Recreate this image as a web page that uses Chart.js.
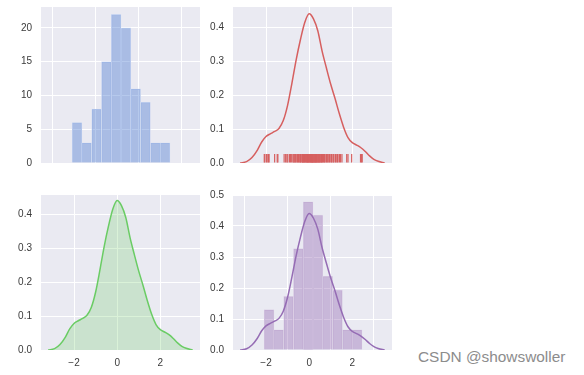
<!DOCTYPE html>
<html>
<head>
<meta charset="utf-8">
<script src="https://cdn.jsdelivr.net/npm/chart.js@4.4.0/dist/chart.umd.min.js"></script>
<style>
    body { margin: 0; background: #fff; width: 584px; height: 375px; position: relative; overflow: hidden; }
    canvas { position: absolute; }
    #mark { position: absolute; left: 418px; top: 349px; font: 15.4px "Liberation Sans", Arial, sans-serif; color: #8c8c8c; line-height: 1; }
</style>
</head>
<body>
<canvas id="tl" width="210" height="170" style="left:0;top:0"></canvas>
<canvas id="tr" width="210" height="170" style="left:192px;top:0"></canvas>
<canvas id="bl" width="210" height="187" style="left:0;top:188px"></canvas>
<canvas id="br" width="210" height="187" style="left:192px;top:188px"></canvas>
<div id="mark">CSDN @showswoller</div>
<script>
// histogram bins (centres) and heights
const binCenters = [-1.86, -1.41, -0.955, -0.50, -0.047, 0.407, 0.861, 1.315, 1.77, 2.223];
const binCounts = [6, 3, 8, 15, 22, 20, 11, 9, 3, 3];
const binDensity = [0.13, 0.065, 0.173, 0.327, 0.478, 0.435, 0.238, 0.193, 0.065, 0.065];

// kde curve
const kdeX = [-3.2, -2.9, -2.65, -2.4, -2.2, -2.0, -1.8, -1.6, -1.4, -1.2, -1.0, -0.8, -0.6, -0.4, -0.2, 0.0,
    0.2, 0.4, 0.6, 0.8, 1.0, 1.2, 1.4, 1.6, 1.8, 2.0, 2.2, 2.4, 2.6, 2.8, 3.0, 3.2, 3.5];
const kdeY = [0.0, 0.004, 0.016, 0.038, 0.062, 0.078, 0.086, 0.093, 0.102, 0.125, 0.17, 0.235, 0.305, 0.365, 0.415, 0.44,
    0.425, 0.39, 0.33, 0.28, 0.232, 0.19, 0.145, 0.105, 0.075, 0.06, 0.053, 0.045, 0.034, 0.021, 0.011, 0.005, 0.0];

// rug samples
const rugValues = [-2.08, -2.05, -1.97, -1.95, -1.88, -1.86,
    -1.60, -1.48, -1.45,
    -1.16, -1.09, -1.03, -0.99, -0.91, -0.87, -0.81, -0.75,
    -0.71, -0.69, -0.64, -0.61, -0.56, -0.54, -0.49, -0.47, -0.43, -0.40, -0.39, -0.34, -0.31, -0.30, -0.28,
    -0.26, -0.23, -0.22, -0.18, -0.17, -0.13, -0.12, -0.09, -0.07, -0.06, -0.03, -0.01, 0.0, 0.03, 0.05, 0.06,
    0.09, 0.11, 0.12, 0.14, 0.16, 0.17,
    0.19, 0.22, 0.23, 0.26, 0.27, 0.30, 0.31, 0.34, 0.36, 0.37, 0.41, 0.42, 0.45, 0.47, 0.50, 0.51, 0.55, 0.58, 0.59, 0.62,
    0.66, 0.70, 0.72, 0.78, 0.80, 0.86, 0.88, 0.94, 0.97, 1.03, 1.06,
    1.12, 1.15, 1.22, 1.25, 1.31, 1.34, 1.41, 1.45, 1.52,
    1.74, 1.80, 1.97,
    2.38, 2.42, 2.46];

const xTicks = [-2, 0, 2];
const yTicksCount = [0, 5, 10, 15, 20];
const yTicksDensity = [0, 0.1, 0.2, 0.3, 0.4];
const yTicksDensity5 = [0, 0.1, 0.2, 0.3, 0.4, 0.5];

const xMin = -3.53, xMax = 3.84;
const tickFont = { family: '"Liberation Sans", Arial, sans-serif', size: 10 };
const tickColor = '#3a3a3a';

const plotBg = {
    id: 'plotBg',
    beforeDraw(chart) {
        const { ctx, chartArea: a } = chart;
        ctx.save();
        ctx.fillStyle = '#eaeaf2';
        ctx.fillRect(a.left, a.top, a.width, a.height);
        ctx.restore();
    }
};

// invisible tick marks give the label offset without adding to the layout padding
function makeScales(yMax, yTicks, showX, decimals) {
    return {
        x: {
            type: 'linear', min: xMin, max: xMax, offset: false,
            afterBuildTicks: s => { s.ticks = xTicks.map(v => ({ value: v })); },
            afterFit: s => { s.height = showX ? 25 : 0; },
            grid: { color: '#fff', lineWidth: 1, drawTicks: showX, tickLength: 7, tickColor: 'rgba(0,0,0,0)' },
            border: { display: false },
            ticks: {
                display: showX, padding: 0, font: tickFont, color: tickColor,
                callback: v => v < 0 ? '\u2212' + Math.abs(v) : String(v)
            }
        },
        y: {
            type: 'linear', min: 0, max: yMax,
            afterBuildTicks: s => { s.ticks = yTicks.map(v => ({ value: v })); },
            afterFit: s => { s.width = 41; },
            grid: { color: '#fff', lineWidth: 1, drawTicks: true, tickLength: 9, tickColor: 'rgba(0,0,0,0)' },
            border: { display: false },
            ticks: {
                padding: 0, font: tickFont, color: tickColor,
                callback: v => v.toFixed(decimals)
            }
        }
    };
}

function baseOptions(scales, bottom) {
    return {
        responsive: false,
        animation: false,
        layout: { padding: { top: 7, right: 10, bottom: bottom, left: 0 } },
        plugins: { legend: { display: false }, tooltip: { enabled: false } },
        scales: scales
    };
}

const kdePoints = kdeX.map((x, i) => ({ x: x, y: kdeY[i] }));

// top left: histogram of counts
new Chart(document.getElementById('tl'), {
    type: 'bar',
    data: {
        datasets: [{
            data: binCenters.map((c, i) => ({ x: c, y: binCounts[i] })),
            backgroundColor: 'rgba(72,120,208,0.4)',
            borderColor: 'rgba(214,223,244,1)',
            borderWidth: 0.6,
            barPercentage: 1,
            categoryPercentage: 1
        }]
    },
    options: baseOptions(makeScales(23.1, yTicksCount, false, 0), 7),
    plugins: [plotBg]
});

// top right: kde + rug
new Chart(document.getElementById('tr'), {
    type: 'line',
    data: {
        datasets: [{
            data: kdePoints,
            borderColor: '#d65f5f',
            borderWidth: 1.5,
            pointRadius: 0,
            cubicInterpolationMode: 'monotone',
            fill: false
        }, {
            type: 'scatter',
            data: rugValues.map(v => ({ x: v, y: 0.014 })),
            pointStyle: 'line',
            rotation: 90,
            pointRadius: 4.2,
            borderColor: '#d65f5f',
            borderWidth: 1.2
        }]
    },
    options: baseOptions(makeScales(0.46, yTicksDensity, false, 1), 7),
    plugins: [plotBg]
});

// bottom left: shaded kde
new Chart(document.getElementById('bl'), {
    type: 'line',
    data: {
        datasets: [{
            data: kdePoints,
            borderColor: '#6acc64',
            backgroundColor: 'rgba(106,204,100,0.25)',
            borderWidth: 1.5,
            pointRadius: 0,
            cubicInterpolationMode: 'monotone',
            fill: 'origin'
        }]
    },
    options: baseOptions(makeScales(0.456, yTicksDensity, true, 1), 0),
    plugins: [plotBg]
});

// bottom right: density histogram + kde
new Chart(document.getElementById('br'), {
    type: 'bar',
    data: {
        datasets: [{
            type: 'line',
            order: 0,
            data: kdePoints,
            borderColor: '#956cb4',
            borderWidth: 1.5,
            pointRadius: 0,
            cubicInterpolationMode: 'monotone',
            fill: false
        }, {
            order: 1,
            data: binCenters.map((c, i) => ({ x: c, y: binDensity[i] })),
            backgroundColor: 'rgba(149,108,180,0.4)',
            borderColor: 'rgba(222,213,232,1)',
            borderWidth: 0.6,
            barPercentage: 1,
            categoryPercentage: 1
        }]
    },
    options: baseOptions(makeScales(0.5, yTicksDensity5, true, 1), 0),
    plugins: [plotBg]
});
</script>
</body>
</html>
